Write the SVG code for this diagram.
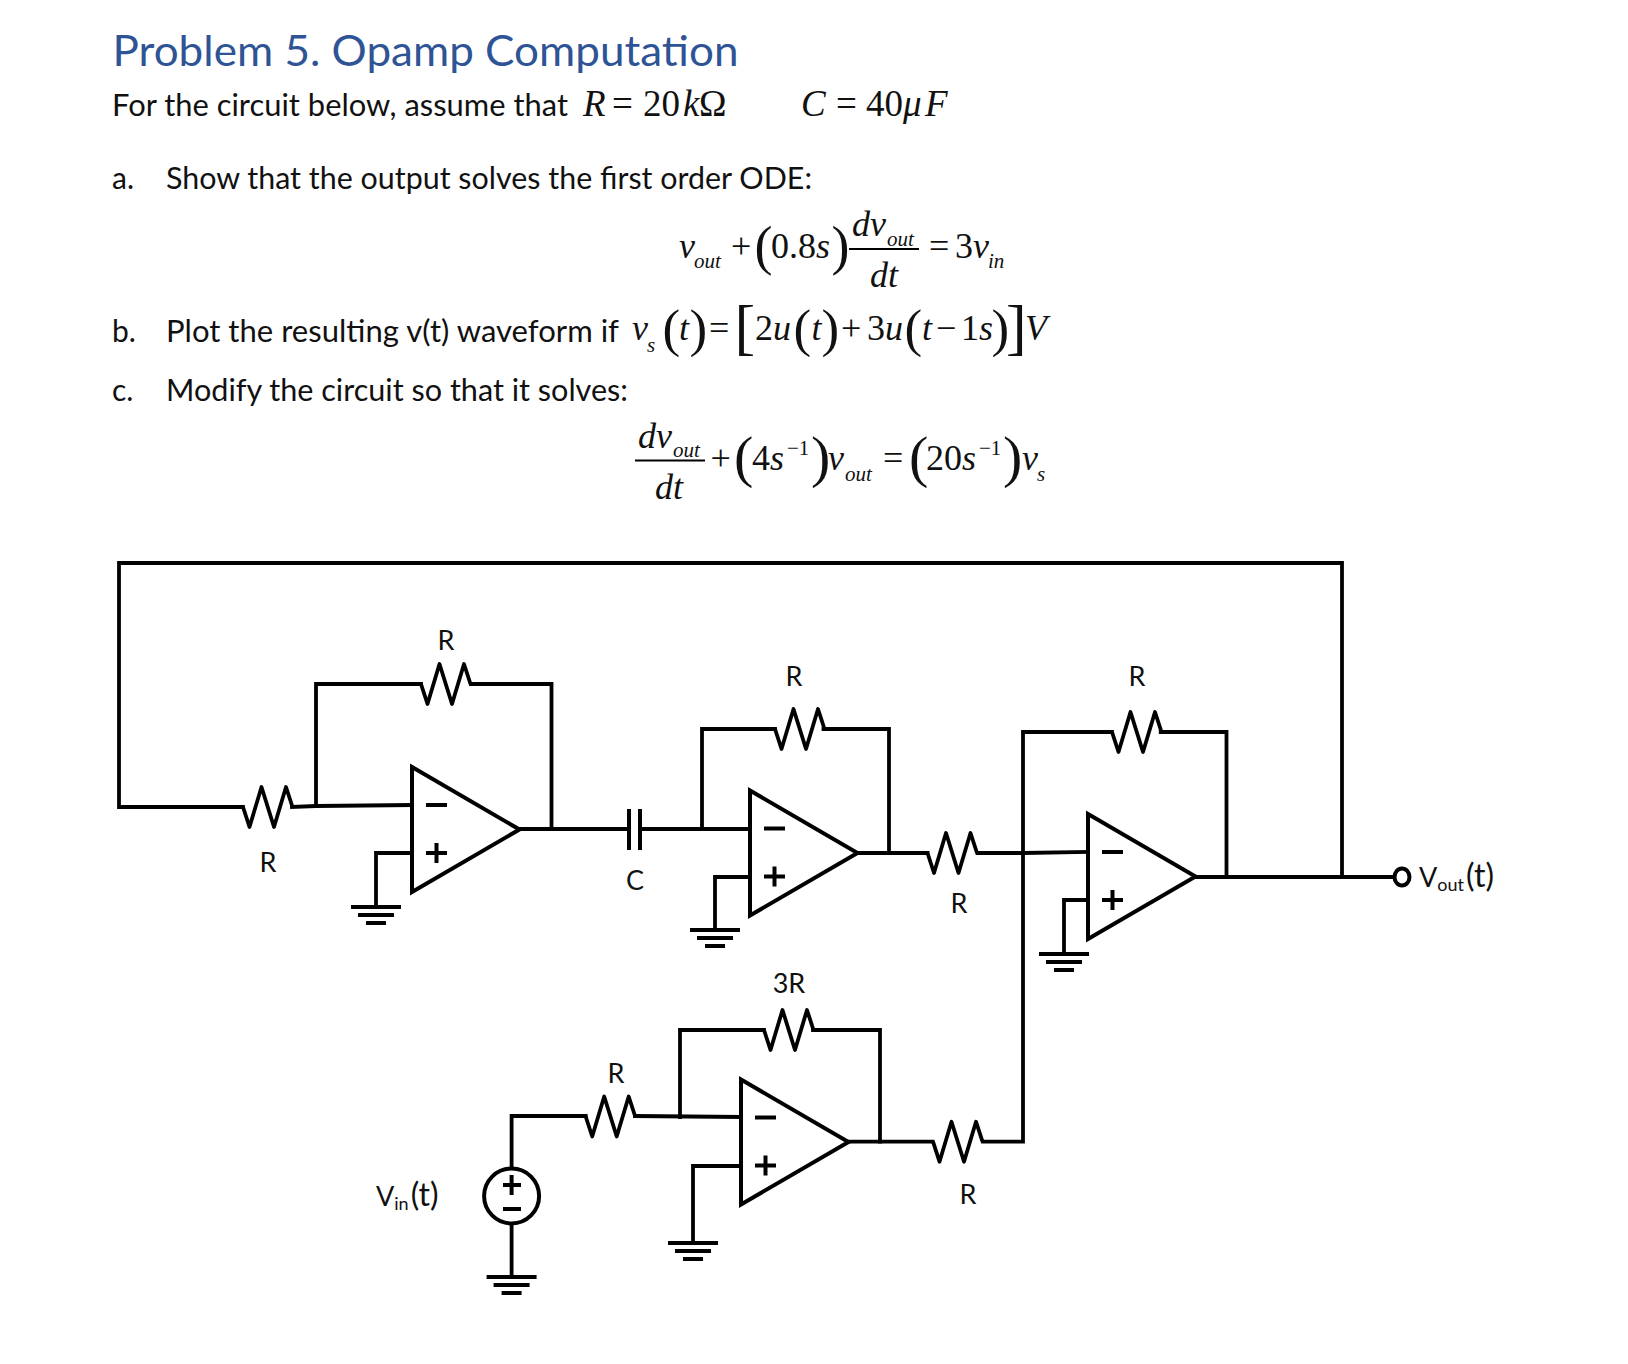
<svg xmlns="http://www.w3.org/2000/svg" width="1628" height="1364" viewBox="0 0 1628 1364">
<style>
.w{fill:none;stroke:#000;stroke-width:3.8;stroke-linejoin:miter;stroke-linecap:square}
.t{fill:none;stroke:#000;stroke-width:4;stroke-linejoin:miter}
.r{fill:none;stroke:#000;stroke-width:3.8;stroke-linejoin:round}
.g{fill:none;stroke:#000;stroke-width:4}
.s{font-family:Lato,"Liberation Sans",sans-serif;font-size:30px;fill:#111}
.l{font-family:Lato,"Liberation Sans",sans-serif;font-size:27px;fill:#111}
.c{text-anchor:middle}
.m{font-family:"Liberation Serif",serif;font-size:36px;fill:#111}
.i{font-style:italic}
.u{font-size:21px}
.h{font-size:37px}
.p1{font-size:54px}
.p2{font-size:53px}
.p3{font-size:58px}
.bk{font-size:62px}
.fr{stroke:#000;stroke-width:2}
</style>
<rect width="1628" height="1364" fill="#fff"/>
<g id="text">
<text x="112.5" y="65.5" font-family="Lato,'Liberation Sans',sans-serif" font-size="42" fill="#2f5496" textLength="626" lengthAdjust="spacingAndGlyphs">Problem 5. Opamp Computation</text>
<text class="s" x="112" y="116" textLength="456" lengthAdjust="spacingAndGlyphs">For the circuit below, assume that</text>
<text class="s" x="112" y="188.5">a.</text>
<text class="s" x="166" y="188.5" textLength="646" lengthAdjust="spacingAndGlyphs">Show that the output solves the first order ODE:</text>
<text class="s" x="112" y="341.5">b.</text>
<text class="s" x="166" y="341.5" textLength="453" lengthAdjust="spacingAndGlyphs">Plot the resulting v(t) waveform if</text>
<text class="s" x="112" y="401">c.</text>
<text class="s" x="166" y="401" textLength="462" lengthAdjust="spacingAndGlyphs">Modify the circuit so that it solves:</text>
<text class="m h" font-style="italic" x="583" y="116">R</text><text class="m h" x="612" y="116">=</text><text class="m h" x="643" y="116">20</text><text class="m i h" x="683" y="116">k</text><text class="m h" x="699" y="116">Ω</text>
<text class="m i h" x="801" y="116">C</text><text class="m h" x="836" y="116">=</text><text class="m h" x="866" y="116">40</text><text class="m i h" x="903" y="116">μ</text><text class="m i h" x="925" y="116">F</text>
</g>
<g id="eq-a">
<text class="m i" x="679" y="258">v</text><text class="m i u" x="694" y="268">out</text>
<text class="m" x="731" y="258">+</text><text class="m p1" x="754.4" y="263.5">(</text><text class="m" x="771" y="258">0.8<tspan class="i">s</tspan></text><text class="m p1" x="831.4" y="263.5">)</text>
<text class="m i" x="852" y="236">dv</text><text class="m i u" x="887" y="245.5">out</text>
<line class="fr" x1="849" y1="249" x2="919" y2="249"/>
<text class="m i" x="870" y="287">dt</text>
<text class="m" x="929" y="258">=</text><text class="m" x="955" y="258">3<tspan class="i">v</tspan></text><text class="m i u" x="988" y="268">in</text>
</g>
<g id="eq-b">
<text class="m i" x="632" y="340">v</text><text class="m i u" x="647" y="352">s</text>
<text class="m p2" x="662.5" y="346">(</text><text class="m i" x="679" y="340">t</text><text class="m p2" x="689.5" y="346">)</text><text class="m" x="709" y="340">=</text>
<text class="m bk" x="734.5" y="348">[</text><text class="m" x="755" y="340">2<tspan class="i">u</tspan></text><text class="m p2" x="793.5" y="346">(</text><text class="m i" x="811.5" y="340">t</text><text class="m p2" x="821.5" y="346">)</text><text class="m" x="841" y="340">+</text>
<text class="m" x="867" y="340">3<tspan class="i">u</tspan></text><text class="m p2" x="904.5" y="346">(</text><text class="m i" x="922" y="340">t</text><text class="m" x="936" y="340">−</text><text class="m" x="961" y="340">1<tspan class="i">s</tspan></text>
<text class="m p2" x="991.5" y="346">)</text><text class="m bk" x="1006" y="348">]</text><text class="m i" x="1025" y="340">V</text>
</g>
<g id="eq-c">
<text class="m i" x="638" y="448">dv</text><text class="m i u" x="673" y="457">out</text>
<line class="fr" x1="635" y1="460.5" x2="705" y2="460.5"/>
<text class="m i" x="655" y="499">dt</text>
<text class="m" x="710.5" y="470">+</text><text class="m p3" x="734" y="476">(</text><text class="m" x="752" y="470">4<tspan class="i">s</tspan></text><text class="m u" x="787" y="455">−1</text><text class="m p3" x="811" y="476">)</text>
<text class="m i" x="828" y="470">v</text><text class="m i u" x="845" y="481">out</text>
<text class="m" x="883" y="470">=</text><text class="m p3" x="909" y="476">(</text><text class="m" x="926" y="470">20<tspan class="i">s</tspan></text><text class="m u" x="979" y="455">−1</text><text class="m p3" x="1003" y="476">)</text>
<text class="m i" x="1022" y="470">v</text><text class="m i u" x="1037" y="481">s</text>
</g>
<g id="connectors">
<polyline class="w" points="243,807 119,807 119,563 1342,563 1342,877"/>
<polyline class="w" points="292,807 316,806 412,805"/>
<polyline class="w" points="316,806 316,684 421,684"/>
<polyline class="w" points="471,684 551.5,684 551.5,829"/>
<polyline class="w" points="519,829 629,829"/>
<polyline class="w" points="640,829 749,829"/>
<polyline class="w" points="702,829 702,729 775,729"/>
<polyline class="w" points="823.5,729 889,729 889,853"/>
<polyline class="w" points="858,853 927.5,853"/>
<polyline class="w" points="977.5,853 1023,853 1088,852"/>
<polyline class="w" points="1160.7,732 1226.5,732 1226.5,877"/>
<polyline class="w" points="1112,732 1023,732 1023,1141.7 983,1141.7"/>
<polyline class="w" points="1196,877 1394,877"/>
<polyline class="w" points="932.6,1141.7 849,1141.7"/>
<polyline class="w" points="880,1141.7 880,1030 813,1030"/>
<polyline class="w" points="764,1030 680,1030 680,1117"/>
<polyline class="w" points="635,1116 741,1117"/>
<polyline class="w" points="511.6,1168 511.6,1116 585.7,1116"/>
<polyline class="w" points="511.6,1224 511.6,1277"/>
<polyline class="w" points="412,853 376,853 376,907"/>
<polyline class="w" points="750,877 715,877 715,930"/>
<polyline class="w" points="1088,900 1064,900 1064,954"/>
<polyline class="w" points="741,1166 693,1166 693,1243"/>
</g>
<defs>
<g id="gnd"><line class="g" x1="-25" x2="25" y1="0" y2="0"/><line class="g" x1="-18" x2="18" y1="8" y2="8"/><line class="g" x1="-10" x2="10" y1="16" y2="16"/></g>
<g id="amp"><polygon class="t" points="0,0 107.5,62.5 0,125" fill="none"/><line class="g" x1="14" x2="35" y1="38" y2="38"/><line class="g" x1="14" x2="35" y1="86" y2="86"/><line class="g" x1="24.5" x2="24.5" y1="76" y2="96"/></g>
<polyline id="res" class="r" points="0,0 6.5,20 18.5,-20 31,20 43,-20 49.5,0"/>
</defs>
<g id="R1"><use href="#res" x="243" y="807"/><text class="l c" x="268" y="872">R</text></g>
<g id="R2"><use href="#res" x="421" y="684"/><text class="l c" x="446" y="650">R</text></g>
<g id="R3"><use href="#res" x="775" y="729"/><text class="l c" x="794" y="686">R</text></g>
<g id="R4"><use href="#res" x="927.5" y="853"/><text class="l c" x="959" y="913">R</text></g>
<g id="R5"><use href="#res" x="1112" y="732"/><text class="l c" x="1137" y="686">R</text></g>
<g id="R6"><use href="#res" x="764" y="1030"/><text class="l c" x="789" y="993">3R</text></g>
<g id="R7"><use href="#res" x="585.7" y="1116.5"/><text class="l c" x="616" y="1083">R</text></g>
<g id="R8"><use href="#res" x="933" y="1141.7"/><text class="l c" x="968" y="1204">R</text></g>
<g id="C1"><line class="g" x1="629" x2="629" y1="809" y2="850"/><line class="g" x1="640" x2="640" y1="809" y2="850"/><text class="l c" x="635" y="890">C</text></g>
<g id="U1"><use href="#amp" x="412" y="767"/></g>
<g id="U2"><use href="#amp" x="750" y="790.5"/></g>
<g id="U3"><use href="#amp" x="1088" y="814"/></g>
<g id="U4"><use href="#amp" x="741" y="1079.5"/></g>
<g id="G1"><use href="#gnd" x="376" y="907"/></g>
<g id="G2"><use href="#gnd" x="715" y="930"/></g>
<g id="G3"><use href="#gnd" x="1064" y="954"/></g>
<g id="G4"><use href="#gnd" x="693" y="1243"/></g>
<g id="G5"><use href="#gnd" x="511.6" y="1277"/></g>
<g id="Vin"><circle class="g" cx="511.6" cy="1196" r="27.5"/><line class="g" x1="503" x2="521" y1="1185" y2="1185"/><line class="g" x1="511.6" x2="511.6" y1="1175" y2="1195"/><line class="g" x1="503" x2="521" y1="1209" y2="1209"/>
<text class="l" x="376" y="1206">V<tspan font-size="18" dy="4">in</tspan><tspan font-size="32" dy="-4" dx="2">(t)</tspan></text></g>
<g id="Vout"><ellipse class="g" cx="1402" cy="877" rx="7.5" ry="8.5" fill="#fff"/>
<text class="l" x="1419" y="887">V<tspan font-size="18" dy="4">out</tspan><tspan font-size="32" dy="-4" dx="2">(t)</tspan></text></g>
</svg>
